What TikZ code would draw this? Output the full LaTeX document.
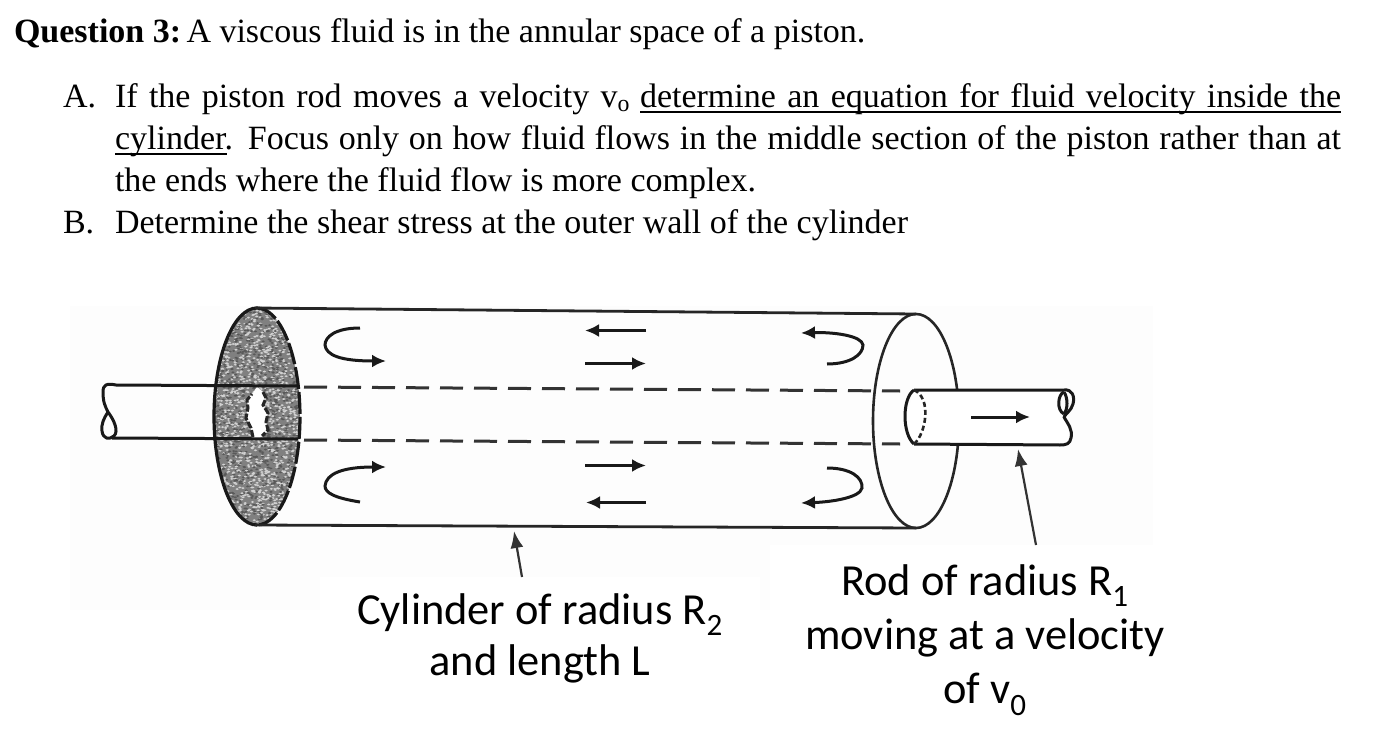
\documentclass[tikz,border=0pt]{standalone}
\usepackage{fontspec}
\setmainfont{Liberation Serif}
\newfontfamily\labelfont{Carlito}
\usetikzlibrary{arrows.meta,shapes.geometric}
\tikzset{
  body/.style={anchor=base west,inner sep=0pt,outer sep=0pt,font=\fontsize{34}{38}\selectfont},
  cap label/.style={inner sep=0pt,outer sep=0pt,font=\labelfont\fontsize{44.4}{44}\selectfont},
  wall/.style={black!85,line width=2.8pt},
  rodline/.style={black!90,line width=3pt,line join=round},
  hidden/.style={black!80,line width=3pt,dash pattern=on 23pt off 11pt},
  flow/.style={black!90,line width=3pt,-{Latex[length=14pt,width=13pt]}},
  leader/.style={black!80,line width=2.2pt,-{Latex[length=17pt,width=13pt]}},
}
\newcommand{\ulrule}[1]{\rlap{\rule[-5.5pt]{#1}{1.8pt}}}
\begin{document}
\begin{tikzpicture}[x=1pt,y=-1pt]
\useasboundingbox (0,0) rectangle (1384,730);
\fill[white] (0,0) rectangle (1384,730);
% faint paste-in background of the figure
\fill[black!0.8] (70,306) rectangle (1153,545);
\fill[black!0.8] (70,545) rectangle (770,610);
% text
\node[body] (q) at (14,43) {\textbf{Question 3:}\hspace{-6pt} A viscous fluid is in the annular space of a piston.};
\node[body] (a) at (63,107.5) {A.};
\node[body] (a1) at (115,107.5) {\makebox[515pt][s]{If the piston rod moves a velocity v\textsubscript{o}}};
\node[body] (a1b) at (640,107.5) {\ulrule{701pt}\makebox[701pt][s]{determine an equation for fluid velocity inside the}};
\node[body] (a2) at (115,149.5) {\ulrule{112pt}\makebox[1226pt][s]{cylinder. Focus only on how fluid flows in the middle section of the piston rather than at}};
\node[body] (a3) at (115,191.5) {the ends where the fluid flow is more complex.};
\node[body] (b) at (63,233.5) {B.};
\node[body] (b1) at (115,233.5) {Determine the shear stress at the outer wall of the cylinder};
% cylinder end faces
\begin{scope}
  \clip (257,416.5) ellipse [x radius=43,y radius=108.5];
  \fill[black!50] (210,300) rectangle (305,530);
  \pgfmathsetseed{7}
  \foreach \i in {1,...,2600}{
    \pgfmathsetmacro{\px}{214+rnd*88}
    \pgfmathsetmacro{\py}{306+rnd*222}
    \pgfmathsetmacro{\tone}{rnd>0.55 ? 65 : 18}
    \fill[black!\tone] (\px,\py) ellipse [x radius=1.7,y radius=1];
  }
\end{scope}
% hole in the shaded face
\fill[white] (257,387) -- (263,392) -- (266,398) -- (263,405) -- (268,413) -- (266,422) -- (268,430) -- (262,436) -- (258,440) -- (253,437) -- (251,428) -- (246,418) -- (248,408) -- (247,400) -- (252,394) -- cycle;
\draw[black!85,line width=3pt,dash pattern=on 7pt off 2pt] (263,392) -- (266,398) -- (263,405) -- (268,413) -- (266,422) -- (268,430) -- (262,436);
\draw[black!85,line width=3pt,dash pattern=on 7pt off 2pt] (253,437) -- (251,428) -- (246,418) -- (248,408) -- (247,400) -- (252,394);
\draw[black!90,line width=3.2pt] (257,308) arc [start angle=-90,end angle=-270,x radius=43,y radius=108.5];
\draw[black!90,line width=3.2pt,dash pattern=on 22pt off 3pt] (257,308) arc [start angle=-90,end angle=90,x radius=43,y radius=108.5];
\node[draw=black!85,line width=2.6pt,ellipse,inner sep=0pt,minimum width=86pt,minimum height=214pt] (rightface) at (916,421) {};
% cylinder walls
\coordinate (wt1) at (255,308);
\coordinate (wb1) at (255,525);
\coordinate (wt2) at (916,314);
\coordinate (wb2) at (916,528);
\draw[wall] (wt1) -- (wt2);
\draw[wall] (wb1) -- (wb2);
% hidden rod
\coordinate (ht1) at (304,387);
\coordinate (ht2) at (900,391);
\coordinate (hb1) at (304,440);
\coordinate (hb2) at (900,444);
\draw[hidden] (ht1) -- (ht2);
\draw[hidden] (hb1) -- (hb2);
% rod, left part
\coordinate (lrt) at (298,386);
\coordinate (lrb) at (298,439);
\draw[rodline] (lrt) -- (116,385) .. controls (106,383) and (103,385) .. (103,392) .. controls (103,402) and (105,406) .. (108,412) .. controls (114,420) and (119,431) .. (114,436) .. controls (109,440) and (103,439) .. (102,431) .. controls (101,424) and (104,418) .. (108,412);
\draw[rodline] (112,438) -- (lrb);
% rod, right part
\fill[white] (914,390) -- (1066,390) -- (1070,444) -- (914,444) -- (905,420) -- cycle;
\coordinate (rrt) at (914,390);
\coordinate (rrb) at (914,444);
\draw[rodline] (rrt) -- (1064,390) .. controls (1072,389) and (1075,396) .. (1073,404) .. controls (1071,411) and (1066,413) .. (1064,417) .. controls (1068,424) and (1073,430) .. (1071,438) .. controls (1070,444) and (1066,445) .. (1060,445) -- (rrb);
\draw[rodline] (1064,392) .. controls (1058,394) and (1056,410) .. (1064,414);
\draw[rodline] (1064,392) .. controls (1068,398) and (1068,409) .. (1064,414);
\draw[rodline] (rrt) .. controls (902,398) and (902,434) .. (rrb);
\draw[black!85,line width=2.6pt,dash pattern=on 5pt off 3pt] (rrt) .. controls (932,398) and (926,434) .. (rrb);
% rod arrow
\coordinate (ra1) at (971,417);
\coordinate (ra2) at (1030,417);
\draw[flow] (ra1) -- (ra2);
% recirculating flow, left
\coordinate (u1s) at (360,328); \coordinate (u1e) at (386,361);
\coordinate (u2s) at (360,502); \coordinate (u2e) at (386,467);
\draw[flow] (u1s) .. controls (335,328) and (325,337) .. (325,345) .. controls (326,355) and (340,361) .. (u1e);
\draw[flow] (u2s) .. controls (335,498) and (325,493) .. (325,486) .. controls (326,474) and (342,467) .. (u2e);
% straight flow, middle
\coordinate (m1a) at (646,330.5); \coordinate (m1b) at (585,330.5);
\coordinate (m2a) at (585,363.5); \coordinate (m2b) at (646,363.5);
\coordinate (m3a) at (585,465.5); \coordinate (m3b) at (646,465.5);
\coordinate (m4a) at (646,502.5); \coordinate (m4b) at (586,502.5);
\draw[flow] (m1a) -- (m1b);
\draw[flow] (m2a) -- (m2b);
\draw[flow] (m3a) -- (m3b);
\draw[flow] (m4a) -- (m4b);
% recirculating flow, right
\coordinate (u3s) at (827,364); \coordinate (u3e) at (801,333);
\coordinate (u4s) at (827,468); \coordinate (u4e) at (801,503);
\draw[flow] (u3s) .. controls (850,364) and (863,355) .. (863,345) .. controls (862,336) and (835,332) .. (u3e);
\draw[flow] (u4s) .. controls (850,468) and (863,477) .. (862,488) .. controls (860,498) and (830,502) .. (u4e);
% labels
\fill[white] (320,577) rectangle (760,700);
\fill[white] (770,545) rectangle (1384,730);
\node[cap label,align=center] (cyl) at (540,638) {Cylinder of radius R\textsubscript{2}\\[7pt]and length L};
\node[cap label,align=center] (rod) at (985,640) {Rod of radius R\textsubscript{1}\\[10pt]moving at a velocity\\[10pt]of v\textsubscript{0}};
\coordinate (cyltip) at (514,531);
\coordinate (cylfoot) at (522,577);
\coordinate (rodtip) at (1018,449);
\coordinate (rodfoot) at (1036,545);
\draw[leader] (cylfoot) -- (cyltip);
\draw[leader] (rodfoot) -- (rodtip);
\end{tikzpicture}
\end{document}
